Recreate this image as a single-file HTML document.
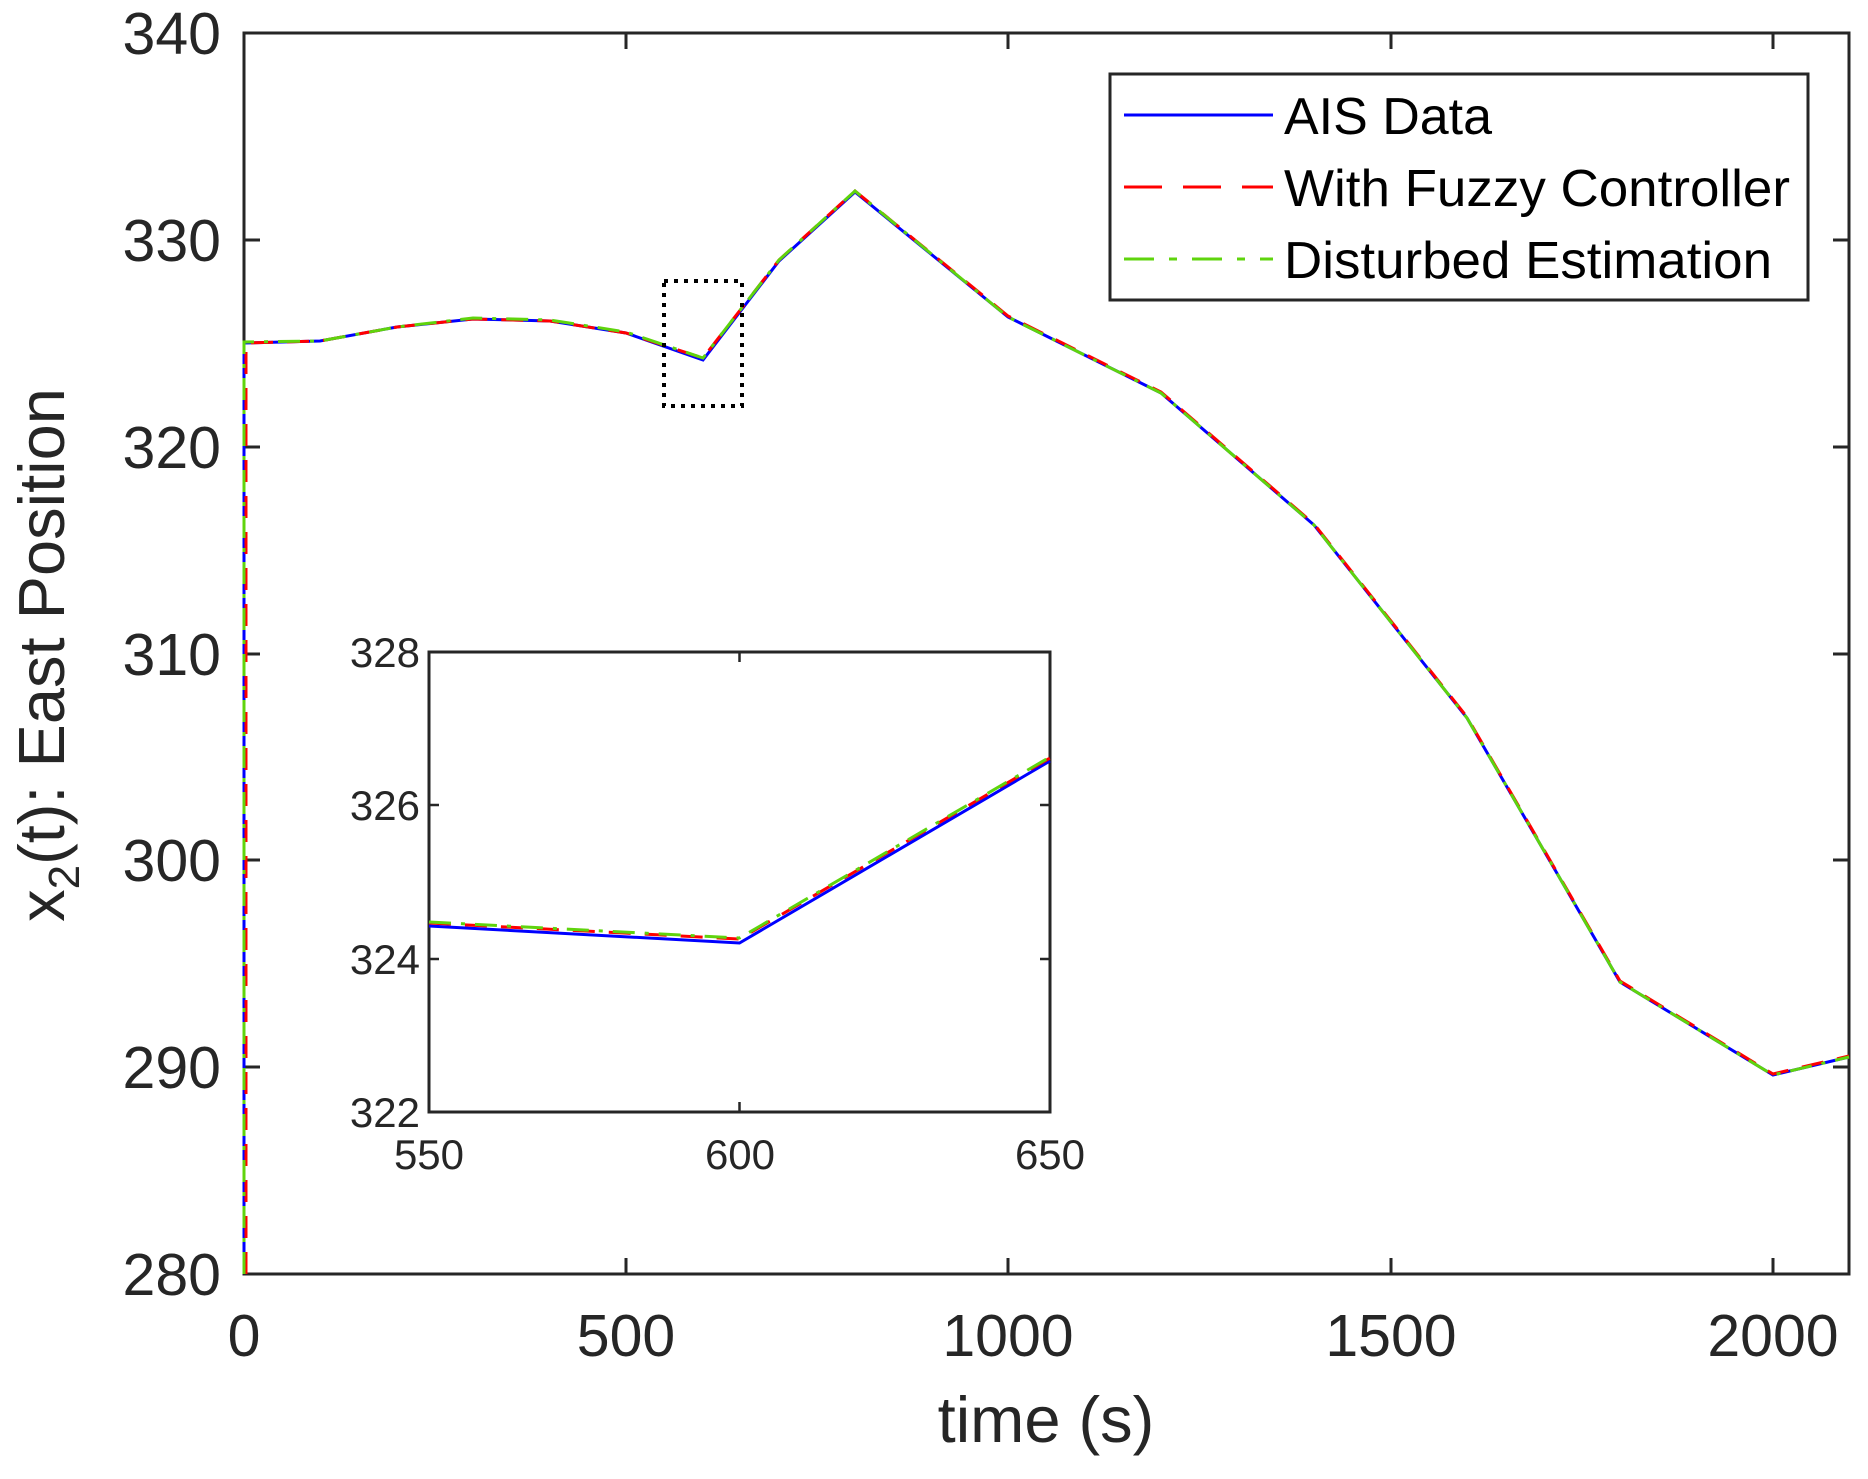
<!DOCTYPE html>
<html><head><meta charset="utf-8"><style>html,body{margin:0;padding:0;background:#fff}svg{display:block}</style></head>
<body>
<svg width="1868" height="1479" viewBox="0 0 1868 1479" xmlns="http://www.w3.org/2000/svg" font-family="Liberation Sans, Arial, sans-serif">
<rect width="1868" height="1479" fill="#fff"/>
<g stroke="#262626" stroke-width="3" fill="none">
<rect x="244" y="33" width="1605" height="1241"/>
<path d="M244,33v16M626,33v16M1008,33v16M1391,33v16M1773,33v16M244,1274v-16M626,1274v-16M1008,1274v-16M1391,1274v-16M1773,1274v-16"/>
<path d="M244,33h16M244,240h16M244,447h16M244,654h16M244,860h16M244,1067h16M1849,33h-16M1849,240h-16M1849,447h-16M1849,654h-16M1849,860h-16M1849,1067h-16"/>
</g>
<g fill="#262626" font-size="59" text-anchor="end">
<text x="221" y="54">340</text><text x="221" y="261">330</text><text x="221" y="468">320</text><text x="221" y="675">310</text><text x="221" y="881">300</text><text x="221" y="1088">290</text><text x="221" y="1295">280</text>
</g>
<g fill="#262626" font-size="59" text-anchor="middle">
<text x="244" y="1356">0</text><text x="626" y="1356">500</text><text x="1008" y="1356">1000</text><text x="1391" y="1356">1500</text><text x="1773" y="1356">2000</text>
<text x="1046" y="1442" font-size="65">time (s)</text>
</g>
<text transform="translate(64,655) rotate(-90)" fill="#262626" font-size="65" text-anchor="middle">x<tspan font-size="44" dy="15">2</tspan><tspan dy="-15">(t): East Position</tspan></text>
<g fill="none" stroke-width="3">
<polyline stroke="#0000ff" points="244,1274 244,343 320,341 397,327 473,319 550,321 626,333 703,360 779,261 855,192 1008,317 1161,393 1314,525 1467,718 1620,982 1773,1075 1849,1057"/>
<polyline stroke="#ff0000" stroke-dasharray="22 14" points="246,1274 246,343 320,341 397,327 473,319 550,321 626,333 703,358 779,260 855,191 1008,316 1161,392 1314,524 1467,717 1620,981 1773,1074 1849,1056"/>
<polyline stroke="#5fd40d" stroke-dasharray="22 10 4 10" points="244,1274 244,342 320,341 397,327 473,318 550,320 626,332 703,358 779,260 855,191 1008,317 1161,393 1314,525 1467,718 1620,982 1773,1075 1849,1057"/>
</g>
<rect x="664" y="281" width="78" height="125" fill="none" stroke="#000" stroke-width="4" stroke-dasharray="4 6"/>
<rect x="1110" y="74" width="698" height="226" fill="#fff" stroke="#262626" stroke-width="3"/>
<line x1="1124" y1="115" x2="1273" y2="115" stroke="#0000ff" stroke-width="3"/>
<line x1="1124" y1="187" x2="1273" y2="187" stroke="#ff0000" stroke-width="3" stroke-dasharray="38 21"/>
<line x1="1124" y1="259" x2="1273" y2="259" stroke="#5fd40d" stroke-width="3" stroke-dasharray="30 15 8 15"/>
<g fill="#000" font-size="52">
<text x="1284" y="134" textLength="208" lengthAdjust="spacingAndGlyphs">AIS Data</text>
<text x="1284" y="206" textLength="506" lengthAdjust="spacingAndGlyphs">With Fuzzy Controller</text>
<text x="1284" y="278" textLength="488" lengthAdjust="spacingAndGlyphs">Disturbed Estimation</text>
</g>
<rect x="429" y="652" width="621" height="460" fill="#fff" stroke="#262626" stroke-width="3"/>
<g stroke="#262626" stroke-width="2.5">
<path d="M429,805h10M429,959h10M1050,805h-10M1050,959h-10M739.5,652v10M739.5,1112v-10"/>
</g>
<g fill="none" stroke-width="3">
<polyline stroke="#0000ff" points="429,926 739.5,943 1050,761"/>
<polyline stroke="#ff0000" stroke-dasharray="22 14" points="429,923 739.5,939 1050,758"/>
<polyline stroke="#5fd40d" stroke-dasharray="22 10 4 10" points="429,922 739.5,938 1050,757"/>
</g>
<g fill="#262626" font-size="42" text-anchor="end">
<text x="420" y="667">328</text><text x="420" y="820">326</text><text x="420" y="974">324</text><text x="420" y="1127">322</text>
</g>
<g fill="#262626" font-size="42" text-anchor="middle">
<text x="429" y="1169">550</text><text x="740" y="1169">600</text><text x="1050" y="1169">650</text>
</g>
</svg>
</body></html>
